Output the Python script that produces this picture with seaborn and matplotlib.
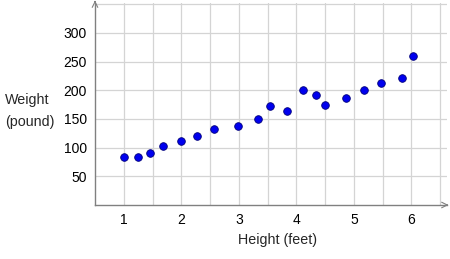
import matplotlib
matplotlib.use("Agg")
import matplotlib.pyplot as plt
import seaborn as sns
import pandas as pd
import numpy as np

height = [1.01, 1.24, 1.45, 1.69, 2.0, 2.28, 2.57, 2.99, 3.33, 3.54,
          3.84, 4.11, 4.35, 4.50, 4.86, 5.18, 5.47, 5.83, 6.03]
weight = [83, 83, 91, 103, 111, 121, 133, 138, 150, 172,
          164, 201, 191, 175, 186, 200, 213, 221, 260]
x_ticks = [1, 2, 3, 4, 5, 6]
y_ticks = [50, 100, 150, 200, 250, 300]

df = pd.DataFrame({"Height": height, "Weight": weight})

sns.set_style("white")
plt.rcParams['font.family'] = ['Liberation Sans', 'DejaVu Sans']

fig = plt.figure(figsize=(4.5, 2.59), dpi=100)
ax = fig.add_axes([95/450, 1-205/259, (447-95)/450, (205-3)/259])

sns.scatterplot(data=df, x="Height", y="Weight", ax=ax, s=30,
                color="#0000EE", edgecolor="#00007a", linewidth=0.6, zorder=3)

ax.set_xlim(0.5, 6.62)
ax.set_ylim(0, 352)
ax.set_xticks(np.arange(1, 6.6, 0.5), minor=True)
ax.set_xticks(x_ticks)
ax.set_xticklabels([str(t) for t in x_ticks])
ax.set_yticks(y_ticks + [350], )
ax.set_yticklabels([str(t) for t in y_ticks] + [""])
ax.grid(True, which="both", color="#d4d4d4", linewidth=0.9)
ax.set_axisbelow(True)
for side in ["top", "right"]:
    ax.spines[side].set_visible(False)
for side in ["left", "bottom"]:
    ax.spines[side].set_color("#808080")
    ax.spines[side].set_linewidth(1.0)
ax.tick_params(axis="both", which="both", direction="inout", length=5,
               color="#808080", labelsize=10, labelcolor="#000000", pad=3)
ax.tick_params(axis="y", length=0, pad=6)

# arrows at axis ends
ax.annotate("", xy=(1.012, 0), xytext=(0.99, 0), xycoords="axes fraction",
            arrowprops=dict(arrowstyle="->", color="#808080", lw=0.8))
ax.annotate("", xy=(0, 1.012), xytext=(0, 0.99), xycoords="axes fraction",
            arrowprops=dict(arrowstyle="->", color="#808080", lw=0.8))

ax.set_xlabel("")
ax.set_ylabel("")
fig.text(278/450, 1-240/259, "Height (feet)", ha="center", va="center", fontsize=10.3)
fig.text(5/450, 1-100/259, "Weight", ha="left", va="center", fontsize=10.3)
fig.text(5/450, 1-122/259, "(pound)", ha="left", va="center", fontsize=10.3)

fig.savefig("out.png", dpi=100)
